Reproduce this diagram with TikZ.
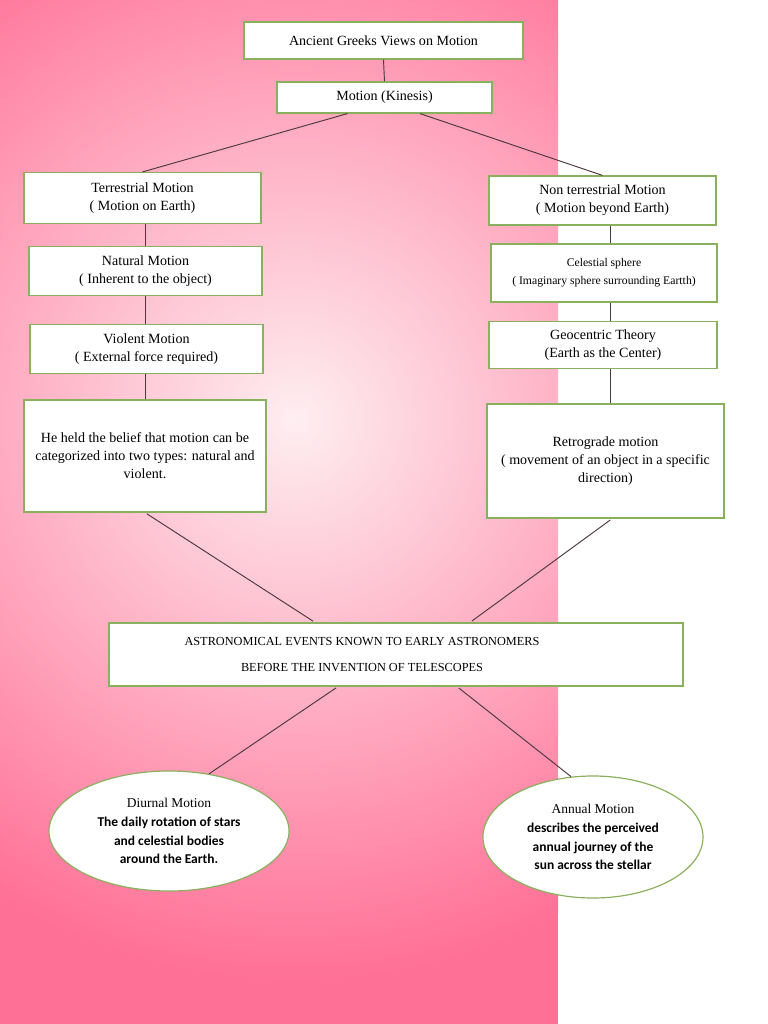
\documentclass[tikz,border=0pt]{standalone}
\usepackage{fontspec}
\setmainfont{Liberation Serif}
\newfontfamily\calib{Carlito}
\usetikzlibrary{shapes.geometric}
\definecolor{boxgreen}{RGB}{137, 176, 92}
\definecolor{linedark}{RGB}{74, 56, 58}
\definecolor{pinkout}{RGB}{255, 112, 150}
\definecolor{pinkin}{RGB}{254, 238, 241}

\tikzset{
  box/.style={draw=boxgreen, line width=1pt, fill=white, align=center, inner sep=0pt,
    font=\fontsize{12}{15.3}\selectfont},
  oval/.style={ellipse, draw=boxgreen, line width=1pt, fill=white, align=center, inner sep=0pt,
    font=\fontsize{11.5}{16}\selectfont},
  link/.style={draw=linedark, line width=0.8pt}
}

\begin{document}
\begin{tikzpicture}[x=0.03cm, y=-0.03cm]
  % Background
  \useasboundingbox (0,0) rectangle (768,1024);
  \fill [white] (0,0) rectangle (768,1024);
  \begin{scope}
    \clip (0,0) rectangle (558,1024);
    \fill [pinkout] (0,0) rectangle (558,1024);
    \shade [inner color=pinkin, outer color=pinkout] (295,420) circle (560);
  \end{scope}

  % Top
  \node [box, minimum width=8.37cm, minimum height=1.11cm] (greeks) at (383.5,40.5) {Ancient Greeks Views on Motion};
  \node [box, minimum width=6.45cm, minimum height=0.93cm] (kinesis) at (384.5,97.5) {Motion (Kinesis)};

  % Terrestrial side
  \node [box, minimum width=7.11cm, minimum height=1.53cm] (terr) at (142.5,198) {Terrestrial Motion\\( Motion on Earth)};
  \node [box, minimum width=6.99cm, minimum height=1.47cm] (natural) at (145.5,271) {Natural Motion\\( Inherent to the object)};
  \node [box, minimum width=6.99cm, minimum height=1.47cm] (violent) at (146.5,349) {Violent Motion\\( External force required)};
  \node [box, minimum width=7.26cm, minimum height=3.36cm] (belief) at (145,456) {He held the belief that motion can be\\categorized into two types: natural and\\violent.};

  % Non terrestrial side
  \node [box, minimum width=6.81cm, minimum height=1.47cm] (nonterr) at (602.5,200.5) {Non terrestrial Motion\\( Motion beyond Earth)};
  \node [box, minimum width=6.78cm, minimum height=1.74cm, font=\fontsize{10}{15.3}\selectfont] (celestial) at (604,273) {Celestial sphere\\( Imaginary sphere surrounding Eartth)};
  \node [box, minimum width=6.84cm, minimum height=1.41cm] (geo) at (603,345) {Geocentric Theory\\(Earth as the Center)};
  \node [box, minimum width=7.11cm, minimum height=3.42cm] (retro) at (605.5,461) {Retrograde motion\\( movement of an object in a specific\\direction)};

  % Events
  \node [box, minimum width=17.22cm, minimum height=1.89cm, font=\fontsize{10.5}{13}\selectfont] (events) at (396,654.5) {ASTRONOMICAL EVENTS KNOWN TO EARLY ASTRONOMERS\hspace*{2.04cm}\\[9pt]BEFORE THE INVENTION OF TELESCOPES\hspace*{2.04cm}};

  \node [oval, minimum width=7.2cm, minimum height=3.6cm] (diurnal) at (169,831) {Diurnal Motion\\{\calib\bfseries The daily rotation of stars}\\{\calib\bfseries and celestial bodies}\\{\calib\bfseries around the Earth.}};
  \node [oval, minimum width=6.6cm, minimum height=3.66cm] (annual) at (593,837) {Annual Motion\\{\calib\bfseries describes the perceived}\\{\calib\bfseries annual journey of the}\\{\calib\bfseries sun across the stellar}};

  % Links
  \coordinate (lline) at (145,0);
  \coordinate (rline) at (610,0);
  \draw [link] (greeks.south) -- (kinesis.north);
  \draw [link] ([xshift=-1.11cm]kinesis.south) -- (terr.north);
  \draw [link] ([xshift=1.065cm]kinesis.south) -- (nonterr.north);
  \draw [link] (lline |- terr.south) -- (lline |- natural.north);
  \draw [link] (lline |- natural.south) -- (lline |- violent.north);
  \draw [link] (lline |- violent.south) -- (lline |- belief.north);
  \draw [link] (rline |- nonterr.south) -- (rline |- celestial.north);
  \draw [link] (rline |- celestial.south) -- (rline |- geo.north);
  \draw [link] (rline |- geo.south) -- (rline |- retro.north);
  \draw [link, shorten <=2pt, shorten >=2pt] (belief.south) -- ([xshift=-2.43cm]events.north);
  \draw [link, shorten <=2pt, shorten >=2pt] ([xshift=0.2cm]retro.south) -- ([xshift=2.22cm]events.north);
  \draw [link, shorten <=2pt] ([xshift=-1.74cm]events.south) -- (diurnal.55);
  \draw [link, shorten <=2pt] ([xshift=1.83cm]events.south) -- (annual.110);
\end{tikzpicture}
\end{document}
